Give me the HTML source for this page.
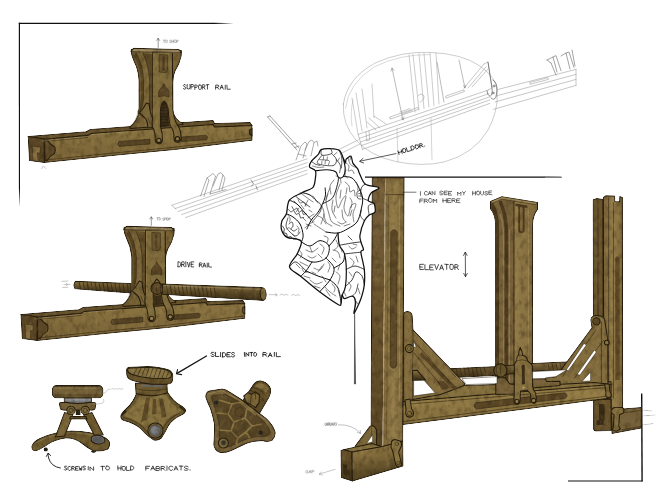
<!DOCTYPE html>
<html><head><meta charset="utf-8"><title>Rail concepts</title>
<style>
html,body{margin:0;padding:0;background:#fff;}
body{width:658px;height:494px;overflow:hidden;font-family:"Liberation Sans",sans-serif;}
svg{display:block;position:absolute;left:0;top:0;}
.o{stroke:#241b0c;stroke-width:1.05;stroke-linejoin:round;stroke-linecap:round}
.d{fill:none;stroke:#2f2512;stroke-width:.6;stroke-linecap:round;stroke-linejoin:round}
.h{fill:none;stroke:#b9a476;stroke-width:.6;stroke-linecap:round;opacity:.7}
.k{fill:none;stroke:#111;stroke-width:.9;stroke-linecap:round;stroke-linejoin:round}
.s{fill:none;stroke:#8a8a8a;stroke-width:.5;stroke-linecap:round;stroke-linejoin:round}
.s2{fill:none;stroke:#555;stroke-width:.6;stroke-linecap:round;stroke-linejoin:round}
.hw{fill:none;stroke:#151515;stroke-width:.75;stroke-linecap:round;stroke-linejoin:round}
.t{fill:none;stroke:#666;stroke-width:.4;stroke-linecap:round;stroke-linejoin:round}
.w{fill:#fff;stroke:#2a2110;stroke-width:.6;stroke-linejoin:round}
</style></head><body>
<svg width="658" height="494" viewBox="0 0 658 494">
<defs>
<linearGradient id="gF" x1="0" y1="0" x2="0" y2="1"><stop offset="0" stop-color="#8c7542"/><stop offset="1" stop-color="#786236"/></linearGradient>
<linearGradient id="gP" x1="0" y1="0" x2="1" y2="0"><stop offset="0" stop-color="#65512b"/><stop offset=".45" stop-color="#8a7441"/><stop offset="1" stop-color="#725d31"/></linearGradient>
<linearGradient id="gV" x1="0" y1="0" x2="1" y2="0"><stop offset="0" stop-color="#6b582e"/><stop offset=".5" stop-color="#8b7745"/><stop offset="1" stop-color="#6e5b30"/></linearGradient>
<linearGradient id="gR" x1="0" y1="0" x2="0" y2="1"><stop offset="0" stop-color="#8a7546"/><stop offset=".5" stop-color="#5d4a26"/><stop offset="1" stop-color="#3b2e17"/></linearGradient>
<linearGradient id="gF2" x1="0" y1="0" x2="0" y2="1"><stop offset="0" stop-color="#9a8149"/><stop offset="1" stop-color="#836e3c"/></linearGradient>
<linearGradient id="gV2" x1="0" y1="0" x2="1" y2="0"><stop offset="0" stop-color="#7a6337"/><stop offset=".5" stop-color="#947d4a"/><stop offset="1" stop-color="#7c6538"/></linearGradient>
<linearGradient id="gL" x1="0" y1="0" x2="0" y2="1"><stop offset="0" stop-color="#765f3a"/><stop offset=".5" stop-color="#6a542e"/><stop offset="1" stop-color="#574322"/></linearGradient>
<linearGradient id="gSh" x1="0" y1="0" x2="0.25" y2="1"><stop offset="0" stop-color="#2a1f0c" stop-opacity="0"/><stop offset=".35" stop-color="#2a1f0c" stop-opacity=".12"/><stop offset="1" stop-color="#2a1f0c" stop-opacity=".6"/></linearGradient>
<filter id="tex" x="-2%" y="-2%" width="104%" height="104%" color-interpolation-filters="sRGB">
<feTurbulence type="fractalNoise" baseFrequency=".2 .13" numOctaves="4" seed="11" result="n"/>
<feColorMatrix in="n" type="matrix" values="0 0 0 0 .16  0 0 0 0 .11  0 0 0 0 .04  -.75 0 0 0 .42" result="dk"/>
<feColorMatrix in="n" type="matrix" values="0 0 0 0 .78  0 0 0 0 .68  0 0 0 0 .42  0 .45 0 0 -.235" result="lt"/>
<feMerge result="m"><feMergeNode in="SourceGraphic"/><feMergeNode in="dk"/><feMergeNode in="lt"/></feMerge>
<feComposite in="m" in2="SourceGraphic" operator="in"/>
</filter>
</defs>
<rect width="658" height="494" fill="#fff"/>
<g id="frames">
<path d="M18.8,22.8 L20,22.8 L20,188 L19.5,207 L18.9,188 Z" fill="#111"/>
<path d="M18.8,22.7 L214,22.8 L234,23.3 L214,23.9 L18.8,23.9 Z" fill="#111"/>
</g>
<g id="sketch">
<!-- big oval (zoom bubble) -->
<path style="stroke:#9a9a9a" class="s" d="M343.4,104 Q347,78 376,62.6 Q402,51 430,52.4 Q462,53.6 480,66 Q497,78 497.4,92 Q498,112 488,130 Q474,154 444,162 Q422,167 396,161.6 Q370,156 356,140 Q342,124 343.4,104 Z"/>
<path style="stroke:#b5b5b5" class="s" d="M345.6,108 Q348,84 374,67 Q400,54 430,54.6 M352,126 Q350,112 353,100"/>
<!-- magnified rail inside oval -->
<path style="stroke:#8e8e8e" class="s" d="M358.2,134.4 L488.4,90 M359.4,138.4 L489,93.6 M360.4,142 L489.4,97 M361.4,145.6 L489.6,100 M362.4,149.4 L489.8,103.4 M358.2,134.4 L362.4,149.4"/>
<path style="stroke:#8e8e8e" class="s" d="M366,131.6 L366.6,141 L369.6,140 L369,130.6 M390,117 L418,107.4 L418.4,109.4 L390.6,119 Z M446,96 L464,89.8 L464.4,91.6 L446.4,98 Z"/>
<!-- posts inside oval -->
<path style="stroke:#9a9a9a" class="s" d="M352,98 L358,134 M356,93 L362,131 M362,89 L367,128 M372,84 L374,118 M409,55 L415,112 M413,54.4 L419,110 M419,53.8 L424,108.6 M424,53.4 L429,107 M430,53 L434,105.6 M436,53 L439,104"/>
<!-- arrows inside -->
<path style="stroke:#777" class="s" d="M392,68 L403,120 M391,71 L392,68 L394,70.4 M401.4,117.6 L403,120 L404,117 M437,62 L444,102 M459,60 L465,88 M463.6,85.6 L465,88 L466,85.4"/>
<!-- brackets inside -->
<path style="stroke:#8e8e8e" class="s" d="M369,118 L380,128 M367,122 L376,130 M374,116 L386,124 M464,88 L484,64 M468,88 L486,67 M472,87 L488,69 M484,64 L488,62 L492,88 L488,90"/>
<path style="stroke:#444" class="s2" d="M488,62 L492,88 Q493,95 490,96.4 Q487,95 487,91 M493,80 Q497,82 497,90 L496,97 Q494,101 491,98"/>
<circle class="s2" cx="494" cy="86" r="1"/><circle class="s2" cx="493" cy="93" r="1"/>
<path style="stroke:#8e8e8e" class="s" d="M418,96 Q421,92 424,96 Q424,101 420,102 M400,112 L410,108.6 M402,114 L412,110.4"/>
<path style="stroke:#aaa" class="s" d="M398,162 L397,128 M432,160 L431,118"/>
<!-- small rail right of oval -->
<path style="stroke:#8e8e8e" class="s" d="M497.4,89.6 L576,69.4 M496,96 L576,74.4 M495,102 L576,79.4 M493.4,109.4 L576,85.4 M576,69.4 L576,85.4 M530,82.4 L548,77.6 L548.4,79.4 L530.4,84.2Z"/>
<!-- small tower right -->
<path style="stroke:#666" class="s2" d="M547,60 L553,57 L557,72 M553,57 L556,55.6 L561,70.6 M561,56 L566,53 L570,69 M566,53 L569,52 L574,67.4 M572,50 L575,66 M551,63 L556,75 M547,60 L551,63"/>
<!-- small rail left -->
<path style="stroke:#8e8e8e" class="s" d="M171.8,205.3 L307.2,158.8 M175,208.6 L307.2,162.6 M178,211.6 L307.2,166.4 M181.6,214.6 L307.2,170 M185.5,217.6 L307.2,173.8 M171.8,205.3 L176,209"/>
<path style="stroke:#555" class="s2" d="M251,180 L253.6,184 L251.6,186 M256,186 L257.4,189.6"/>
<!-- small tower left -->
<path style="stroke:#777" class="s2" d="M200.6,196 L207,178 L213,173.6 L215.6,176 L210,194 M207,178 L209,180 L204,196.4 M213,186 L218,174 L221,172.6 L223,175 L219,190 M223,175 L225,178 L222,190 M210,194 L226,189.6"/>
<!-- small tower near robot -->
<path style="stroke:#777" class="s2" d="M296,160 L301,146 L305,142 L307,144 L303,158 M305,150 L309,141.6 L312,140 L314,142.6 L311,156 M314,142.6 L317,141 L318,146 M298,154 L306,156"/>
<!-- diagonal pole -->
<path style="stroke:#666" class="s2" d="M267.6,117 L297,150 M270,116 L299,148 M267.6,117 L270,116 M292,144 L296,143 M294.6,147.6 L299,146"/>
<!-- long rail continues from robot to oval -->
<path style="stroke:#8e8e8e" class="s" d="M338,150 L358,140 M340,154 L360,144"/>
</g>
<g filter="url(#tex)" id="rail1">
<!-- top face of rail -->
<path style="fill:#66522c" class="o" d="M28,136.5 L86,131.8 L90,129.6 L131,126.6 L183,122.4 L213,120.6 L214.5,123.4 L250,122.6 L252,125.6 L214,127.5 L90,135 L44.2,139.6 Z"/>
<!-- front face -->
<path style="fill:url(#gF)" class="o" d="M44.2,139.2 L88,135.6 L91,133.6 L213,124.6 L214.5,127 L252,125.4 L252,140.2 L175,149.6 L120,154.8 L44.2,162.4 Z"/>
<!-- left end face -->
<path style="fill:#5a4625" class="o" d="M28.2,136.4 L44.2,138.7 L44.2,162.4 L29.5,160.4 Z"/>
<path fill="#856e40" stroke="#2a2110" stroke-width=".5" d="M32.3,146 L40.5,147.3 L40.2,153 L37.4,152.8 L38,161.6 L32.9,160.4 Z"/>
<!-- end cap detail on front face -->
<path style="fill:#5c4826" class="o" d="M44.8,140.4 L47.6,140.4 Q50.5,145 54.8,147 Q56,150.4 54.6,153.4 Q50,155.6 47.4,160.4 L44.8,160.8 Z"/>
<path class="d" d="M44.6,141.2 L88,137.4 M44.6,160 L120,152.4 L175,147.2 L251,138"/>
<!-- dark slots -->
<path fill="#574424" stroke="#2a2110" stroke-width=".5" d="M119,141.4 Q116.5,144 119.4,146.4 L150,144 L150,139.2 Z"/>
<path fill="#574424" stroke="#2a2110" stroke-width=".5" d="M181,137 L206,135.2 Q209,137 206.4,139.8 L181,141.6 Z"/>
<!-- right end notch -->
<path style="fill:#574424" class="o" d="M252,128.4 L249.6,130 L249.6,134 L252,136 Z"/>
<!-- post back/side -->
<path style="fill:url(#gP)" class="o" d="M131,51 L131.4,49.2 L181.4,50.6 L181.2,56 Q179.6,64 175,71 Q172.8,76 172.8,82 L172.8,110 Q174,119 182.6,123.4 L183,124.4 L130,128.4 L130,126.6 Q137.6,121 139,111 L139,80 Q138.6,70 134,61 Q131.6,56 131,51 Z"/>
<!-- top face of post -->
<path style="fill:#97835a" class="o" d="M131,51.6 L133.6,48.2 L179,49.6 L181.4,52.8 Z"/>
<!-- side ribs (left) -->
<path fill="#55421f" d="M136,53 Q142.6,64 143.6,80 L143.4,100 Q142.6,108 139.4,113 L137.6,112 Q140.2,106 140.6,100 L140.8,80 Q140,66 133.6,55.4 Z"/>
<path fill="#5d4926" d="M143,53.2 Q148.6,64 149.4,80 L149.2,104 Q150,112 152.6,116 L152.6,54 Z"/>
<path class="d" d="M136,53 Q142.6,64 143.6,80 L143.4,100 Q142.6,108 139.4,113 M143,53.2 Q148.6,64 149.4,80 L149.2,104 Q150,114 152.8,118"/>
<path style="fill:#7b663a" class="o" d="M139.4,113 Q144,108 146.4,103 L149.2,104 Q150,114 152.6,118 L152.8,127 L148,127.6 Q147.6,120 144,117 Q141.6,115 139.4,113 Z"/>
<!-- central column front face -->
<path style="fill:#7f6b3b" class="o" d="M152.8,52 L172.4,52.6 L172.8,110 Q174,120 178,126 Q181.6,131.6 181,139 Q180,142.6 177,142.2 Q173.8,141.6 174,138 Q174.2,131 170.6,126 Q168.6,121 168.4,112 Q168,104 164,101 Q160.6,104 160.4,112 L160.6,127 Q162.8,133 162.4,140.6 Q161.4,144.2 158.4,143.8 Q155,143 155.2,139.4 Q155.6,132.6 152.4,127 Q151.6,122 152.8,116 Z"/>
<!-- channel in column -->
<path fill="#6a552e" stroke="#2a2110" stroke-width=".5" d="M159,54.6 L167.6,55 L167.6,70 Q167,72.4 165.6,72.6 L159.2,72 Z"/>
<path fill="#4a3a1e" d="M162.4,56.4 L164.6,56.4 L164.6,70.6 L162.4,70.4 Z"/>
<path fill="#5a4625" stroke="#2a2110" stroke-width=".5" d="M158.6,92 Q160,88 162,87.4 L163.8,83.6 L165.8,87.4 Q168,88.4 169,92 L169,97 Q164,94.6 158.6,97 Z"/>
<!-- arch opening -->
<path fill="#2e2412" d="M160.6,127 L160.6,110 Q161,102.6 164.2,101.6 Q167.8,102.6 168.2,110 L168.4,120 Q168.6,123.6 170,126 Z"/>
<path style="stroke:#5a4928" class="t" d="M161.4,106h6M161.2,109h6.6M161.2,112h6.8M161.2,115h6.8M161.2,118h7M161.2,121h7.4M161.2,124h8"/>
<!-- pivots -->
<circle style="fill:#9a8552" class="o" cx="158.8" cy="140.4" r="2.2"/>
<circle style="fill:#9a8552" class="o" cx="177.4" cy="138.8" r="2.2"/>
<!-- left flare foot -->
<path class="d" d="M130.4,126.8 Q137,121 138,110 M148,118 Q149.4,124 152.8,127"/>
<path class="h" d="M132.4,51 L180,52.8 M153.6,53.4 L153.6,115 M42,141 L87,136.6 M92,134.6 L129,131.6"/>
</g>
<g filter="url(#tex)" id="rail2">
<!-- rod left part (behind post) -->
<path style="fill:url(#gR)" class="o" d="M75.4,281.2 Q72.6,284.8 75,288.8 L131,293 L131,283.4 Z"/>
<path style="stroke-width:.7;stroke:#2f2512" class="t" d="M79,281.6l1.6,7.4M83,281.8l1.6,7.6M87,282l1.6,7.8M91,282.2l1.6,8M95,282.4l1.6,8.2M99,282.6l1.6,8.4M103,282.8l1.6,8.4M107,283l1.6,8.6M111,283l1.6,8.8M115,283.2l1.6,9M119,283.2l1.6,9.2M123,283.4l1.6,9.2M127,283.4l1.6,9.4"/>
<g transform="translate(-7.2,178)">
<!-- top face of rail -->
<path style="fill:#66522c" class="o" d="M28,136.5 L86,131.8 L90,129.6 L131,126.6 L183,122.4 L213,120.6 L214.5,123.4 L250,122.6 L252,125.6 L214,127.5 L90,135 L44.2,139.6 Z"/>
<!-- front face -->
<path style="fill:url(#gF)" class="o" d="M44.2,139.2 L88,135.6 L91,133.6 L213,124.6 L214.5,127 L252,125.4 L252,140.2 L175,149.6 L120,154.8 L44.2,162.4 Z"/>
<!-- left end face -->
<path style="fill:#5a4625" class="o" d="M28.2,136.4 L44.2,138.7 L44.2,162.4 L29.5,160.4 Z"/>
<path fill="#856e40" stroke="#2a2110" stroke-width=".5" d="M32.3,146 L40.5,147.3 L40.2,153 L37.4,152.8 L38,161.6 L32.9,160.4 Z"/>
<!-- end cap detail on front face -->
<path style="fill:#5c4826" class="o" d="M44.8,140.4 L47.6,140.4 Q50.5,145 54.8,147 Q56,150.4 54.6,153.4 Q50,155.6 47.4,160.4 L44.8,160.8 Z"/>
<path class="d" d="M44.6,141.2 L88,137.4 M44.6,160 L120,152.4 L175,147.2 L251,138"/>
<!-- dark slots -->
<path fill="#574424" stroke="#2a2110" stroke-width=".5" d="M119,141.4 Q116.5,144 119.4,146.4 L150,144 L150,139.2 Z"/>
<path fill="#574424" stroke="#2a2110" stroke-width=".5" d="M181,137 L206,135.2 Q209,137 206.4,139.8 L181,141.6 Z"/>
<!-- right end notch -->
<path style="fill:#574424" class="o" d="M252,128.4 L249.6,130 L249.6,134 L252,136 Z"/>
<!-- post back/side -->
<path style="fill:url(#gP)" class="o" d="M131,51 L131.4,49.2 L181.4,50.6 L181.2,56 Q179.6,64 175,71 Q172.8,76 172.8,82 L172.8,110 Q174,119 182.6,123.4 L183,124.4 L130,128.4 L130,126.6 Q137.6,121 139,111 L139,80 Q138.6,70 134,61 Q131.6,56 131,51 Z"/>
<!-- top face of post -->
<path style="fill:#97835a" class="o" d="M131,51.6 L133.6,48.2 L179,49.6 L181.4,52.8 Z"/>
<!-- side ribs (left) -->
<path fill="#55421f" d="M136,53 Q142.6,64 143.6,80 L143.4,100 Q142.6,108 139.4,113 L137.6,112 Q140.2,106 140.6,100 L140.8,80 Q140,66 133.6,55.4 Z"/>
<path fill="#5d4926" d="M143,53.2 Q148.6,64 149.4,80 L149.2,104 Q150,112 152.6,116 L152.6,54 Z"/>
<path class="d" d="M136,53 Q142.6,64 143.6,80 L143.4,100 Q142.6,108 139.4,113 M143,53.2 Q148.6,64 149.4,80 L149.2,104 Q150,114 152.8,118"/>
<path style="fill:#7b663a" class="o" d="M139.4,113 Q144,108 146.4,103 L149.2,104 Q150,114 152.6,118 L152.8,127 L148,127.6 Q147.6,120 144,117 Q141.6,115 139.4,113 Z"/>
<!-- central column front face -->
<path style="fill:#7f6b3b" class="o" d="M152.8,52 L172.4,52.6 L172.8,110 Q174,120 178,126 Q181.6,131.6 181,139 Q180,142.6 177,142.2 Q173.8,141.6 174,138 Q174.2,131 170.6,126 Q168.6,121 168.4,112 Q168,104 164,101 Q160.6,104 160.4,112 L160.6,127 Q162.8,133 162.4,140.6 Q161.4,144.2 158.4,143.8 Q155,143 155.2,139.4 Q155.6,132.6 152.4,127 Q151.6,122 152.8,116 Z"/>
<!-- channel in column -->
<path fill="#6a552e" stroke="#2a2110" stroke-width=".5" d="M159,54.6 L167.6,55 L167.6,70 Q167,72.4 165.6,72.6 L159.2,72 Z"/>
<path fill="#4a3a1e" d="M162.4,56.4 L164.6,56.4 L164.6,70.6 L162.4,70.4 Z"/>
<path fill="#5a4625" stroke="#2a2110" stroke-width=".5" d="M158.6,92 Q160,88 162,87.4 L163.8,83.6 L165.8,87.4 Q168,88.4 169,92 L169,97 Q164,94.6 158.6,97 Z"/>
<!-- pivots -->
<circle style="fill:#9a8552" class="o" cx="158.8" cy="140.4" r="2.2"/>
<circle style="fill:#9a8552" class="o" cx="177.4" cy="138.8" r="2.2"/>
<!-- left flare foot -->
<path class="d" d="M130.4,126.8 Q137,121 138,110 M148,118 Q149.4,124 152.8,127"/>
<path class="h" d="M132.4,51 L180,52.8 M153.6,53.4 L153.6,115 M42,141 L87,136.6 M92,134.6 L129,131.6"/>

<path fill="#3b2e17" d="M160.4,127 L160.4,116 Q164,119 168.4,116 L168.6,122 Q168.8,125 170,126.4 Z"/>
</g>
<!-- ball joint -->
<circle style="fill:#5e4b26" class="o" cx="157" cy="288.4" r="6"/>
<path class="d" d="M153.2,284 Q151.6,288.4 153.4,293 M157,282.6 Q155.6,288.4 157.2,294.2 M160.8,284 Q159.8,288.4 161,293"/>
<!-- rod right part -->
<path style="fill:url(#gR)" class="o" d="M162.4,284 L262,287.6 Q268,294 263,300.4 L162.6,294.2 Z"/>
<ellipse style="fill:#7e6a3c" class="o" cx="263.2" cy="294" rx="3" ry="6.2" transform="rotate(-4 263.2 294)"/>
<path style="stroke-width:.7;stroke:#2f2512" class="t" d="M166,284.4l2,9.8M170,284.6l2,10M174,284.8l2,10M178,285l2,10.2M182,285.2l2,10.2M186,285.4l2,10.4M190,285.6l2,10.4M194,285.8l2,10.6M198,286l2,10.6M202,286.2l2,10.8M206,286.4l2,10.8M210,286.6l2,11M214,286.8l2,11"/>
<path class="h" d="M164,285.6 L260,289.4"/>
</g>
<g filter="url(#tex)" id="feet">
<!-- FOOT 1 -->
<g>
<!-- base arc -->
<path style="fill:#6d5a2f" class="o" d="M31.8,446.6 Q33,441.6 40,438.4 Q55,431.6 71.5,431 Q92,431.4 105,437.6 Q110.4,440.6 109.6,444.6 Q109.2,448.4 107,449.4 Q99,452 93,450.4 Q87,447.6 81.6,443 Q74,437.4 65.6,438 Q54,439.6 47.4,444.6 Q40,449.6 35.6,450.8 Q32,450.6 31.8,446.6 Z"/>
<path class="h" d="M36,442.6 Q52,433.6 71.5,432.6 Q90,433 103,438.4"/>
<!-- wheel -->
<circle cx="45.8" cy="449.4" r="2.2" fill="#1d1a16"/>
<ellipse cx="93.5" cy="451.6" rx="2.6" ry="1.4" fill="#2a2418"/>
<!-- legs -->
<path style="fill:#7b6739" class="o" d="M64.4,412.6 L73,414.6 L64.6,436 L55.4,437 Z"/>
<path style="fill:#6a572d" class="o" d="M83.4,414.6 L92,412.6 L103.4,435 L94.4,435.4 Z"/>
<path style="fill:#5e4c27" class="o" d="M70.6,416.4 L86,416.4 L87,419 L69.6,419 Z"/>
<!-- gray oval -->
<ellipse style="fill:#6a6a6c" class="o" cx="98" cy="439.6" rx="7" ry="4.4" transform="rotate(8 98 439.6)"/>
<ellipse cx="98" cy="439.8" rx="5.4" ry="3" fill="#58585b" transform="rotate(8 98 439.6)"/>
<!-- collar -->
<path style="fill:#75623a" class="o" d="M59.4,404 Q59,402.4 61,402.4 L94,402.4 Q96,402.4 95.8,404.4 L95,409 Q92,411 89,409.8 L67.6,409.8 Q64,411.2 60.4,409 Z"/>
<circle style="fill:#7f6b3d" class="o" cx="71" cy="410.4" r="4.2"/>
<circle style="fill:#7f6b3d" class="o" cx="85.2" cy="410.4" r="4.2"/>
<circle class="d" cx="71" cy="410.4" r="2.2"/>
<circle class="d" cx="85.2" cy="410.4" r="2.2"/>
<path fill="#2b2212" d="M75.6,410 h5 v5 h-5z"/>
<!-- gray disc -->
<path style="fill:#77787b" class="o" d="M64.2,396 L91.4,396 L91.4,402 Q78,405 64.2,402 Z"/>
<path fill="#94969a" d="M65,399 L90.6,399 L90.6,400.6 L65,400.6Z"/>
<!-- cap -->
<rect style="fill:#75623a" class="o" x="52.4" y="385.6" width="50.4" height="12.2" rx="4" ry="4"/>
<path class="h" d="M55,388 L100,388"/>
<path class="d" d="M56,386.6 L99,386.6" stroke-dasharray="2.4 2"/>
<path fill="#54421f" opacity=".6" d="M54,394 L101,394 L100,397.6 L55,397.6Z"/>
</g>
<!-- FOOT 2 -->
<g>
<!-- body -->
<path style="fill:#6a572d" class="o" d="M137,392 Q134,402 126,409 Q121.4,413 120.8,416 Q120.6,419.4 124,420.4 Q135,423 141,429 Q148,437 154,440 Q158,441 161.4,438 Q165.4,432 168.4,425.6 Q172.4,419.4 180.6,415.4 Q185.4,413 185.6,410.6 Q185,407.6 181,405.6 Q173,401.6 167.4,392 Z"/>
<path fill="#86723f" d="M139,396 Q136,404 128,411 Q124.4,414 124.4,416 Q136,419.6 143,426 Q150,434 155,436.4 Q160,432 164,424 Q169,416.4 178.4,412.4 L181.6,410.2 Q172,405.6 166,395 Z"/>
<path fill="#5c4926" d="M146,398 L150,397 L147,420 L141,422 Z M163,399 L159,398 L161.6,418 L166.6,416.4Z M153,399 L156,399 L156.6,414 L152,414.6Z"/>
<path class="d" d="M124,417.6 Q136,420.4 143,427.4 Q150,435.4 155.4,438 Q161,433.6 165,425.4 Q169.6,417.6 179,413.6 M121,415 L125,411.4 M185,409.6 L181,407"/>
<path fill="#2f2514" d="M121,414.6 L125.6,410 L127,411.4 L122,416Z M185.4,409.6 L180.4,405.6 L179,407 L184.4,411.4Z"/>
<!-- gray disc -->
<circle style="fill:#7b683b" class="o" cx="155.4" cy="430.6" r="7.6"/>
<circle cx="155.4" cy="430.6" r="5.8" fill="#66676a" stroke="#2a2110" stroke-width=".5"/>
<circle cx="154.8" cy="430" r="3.6" fill="#7d7e82"/>
<!-- neck -->
<path style="fill:#6b582e" class="o" d="M135.4,383 L167,384 L167.4,393 Q151,398 136,393.6 Z"/>
<path fill="#66676a" d="M141,384.4 L163,385.2 L163,387 L141,386.4Z"/>
<path class="d" d="M135.6,388.6 Q151,392.6 167.2,388.8"/>
<!-- cap -->
<path style="fill:#65522a" class="o" d="M126.6,370.6 Q126.2,367.4 130,367.2 L148,366.4 Q164,367.4 169,370 Q173,372.4 172.8,376 L172.6,380 Q172,384 167,384.2 L152,384.2 Q138,382.6 130,379.4 Q126.8,377.6 126.8,374.6 Z"/>
<path style="fill:#8a7644" class="o" d="M127.6,370.4 Q127.4,368.2 130.4,368 L148,367.2 Q163,368.2 168,370.6 Q171.8,372.6 171.6,375.4 Q171,378.4 166,378.4 L152,378.2 Q138,376.8 131,374 Q127.8,372.6 127.6,370.4 Z"/>
<path style="stroke-width:.7;stroke:#3a2d16" class="t" d="M137,368.4l-3,5.4M141,368.2l-3,6.6M145,368l-3,7.6M149,368l-3,8.4M153,368.2l-3,8.8M157,368.6l-3,8.8M161,369.2l-3,8.4M165,370.2l-3,7.6M168.6,372l-2.6,6"/>
</g>
<!-- FOOT 3 -->
<g>
<!-- knob -->
<path style="fill:#5f4c27" class="o" d="M243,400 L254.2,383.6 Q257.4,380 262.4,381.2 Q268.6,383.4 270.4,388.4 Q271.4,392.4 268.8,397.4 L258,416 Z"/>
<path fill="#85713f" d="M256,384.4 Q258.4,382.6 262,383.4 Q267,385.4 268.6,389 L266,393 Q262,388 255,386.4Z"/>
<path class="d" d="M252.6,387.4 Q260,388 266.6,396.6 M250.4,390.6 Q258,392 264,401"/>

<!-- plate rim -->
<path style="fill:#77633a" class="o" d="M206.8,392.8 Q208,390.6 212,390.4 L222.4,389 Q226,389.4 229,391.6 L240.6,399 L266,418.4 Q273,425 275,431.6 Q276,436.4 272,440.4 Q268,442.4 262,440.6 Q254,440.6 246,443.6 L231.4,450.4 Q224,453.4 219.6,452.2 Q214.4,450 213.8,444.6 Q214.6,434 214.6,424.6 Q213,416 210.4,408.4 Q206.6,400 205.8,397 Q205.6,394.4 206.8,392.8Z"/>
<path style="fill:#7a6638" class="o" d="M243.6,396 L247.6,392.6 L251.4,394.4 L255.4,392 L259.6,395 L259,402.6 L255.6,407.6 L250,404 L246.4,402.6 Z"/>
<path class="d" d="M251.4,394.4 L250,404 M255.4,392 L255.6,399"/>
<!-- inner panel -->
<path fill="#574626" stroke="#2a2110" stroke-width=".5" d="M211.6,396 Q213,394.6 216,395 L226,394.6 L240,402.4 L263,420.6 Q269,426.6 270.4,432 Q269,436.6 264,436.4 Q254,436 245,439.4 L231,446 Q226,448 222.4,446.6 Q219,444 219,440 Q219.6,430 219,423 Q217,414 214.6,407 Q211.6,400 211.6,396Z"/>
<!-- ribs -->
<path fill="none" stroke="#8a7442" stroke-width="1.6" stroke-linejoin="round" d="M219,400 L232,404 L240,402.4 M232,404 L228,414 L216.4,413 M228,414 L234,422 L245,418 L247,408 L240,402.4 M247,408 L256,415 M245,418 L252,426 L262,424 M234,422 L231,431 L219.4,430 M231,431 L238,438 L246,432 L252,426 M246,432 L250,438 M238,438 L236,444"/>
<circle cx="239.6" cy="412" r="4.6" fill="#5a4725" stroke="#3a2d16" stroke-width=".5"/>
<!-- bolts -->
<circle cx="216" cy="402.6" r="2.2" fill="#25221e"/>
<circle cx="260.6" cy="432.6" r="2.2" fill="#25221e"/>
<circle style="fill:#7a6638" class="o" cx="223.4" cy="443" r="5"/>
<circle cx="223.4" cy="443" r="2.4" fill="#35332f"/>
<path class="h" d="M208,394 L222,390.6 L240,400.4 L265,419.6"/>
</g>
</g>
<g id="elevframe">
<!-- frame lines -->
<path d="M355,178 V312" stroke="#222" stroke-width=".6" fill="none"/>
<path d="M354.6,312 L355.6,384 L354.4,384 Z" fill="#333" stroke="#333" stroke-width=".5"/>
<path d="M365,177.2 H545 L561,177.4" stroke="#111" stroke-width="1.3" fill="none"/>
<path d="M545,177.3 H562" stroke="#888" stroke-width="1.2" fill="none"/>
<path d="M641.7,393.4 L642.1,481.6" stroke="#111" stroke-width="1.4" fill="none"/>
<path d="M568,481 H642.4" stroke="#111" stroke-width="1" fill="none"/>
</g>
<g filter="url(#tex)" id="elev">
<!-- RIGHT POST -->
<path style="fill:#6a542d" class="o" d="M593.2,199.8 L597,198.6 L603,199.6 L603.4,400 L593.6,400 Z"/>
<path style="fill:url(#gV2)" class="o" d="M603.4,197.4 L606,195.8 L614.6,196 L614.8,201.6 L619.6,201.8 L619.8,196.6 L622.4,197.4 L622.6,409 L611.4,412 L611,400 L603.6,400 Z"/>
<path class="d" d="M598,200 V398 M608.6,198 V398 M613.4,203 V398"/>
<path fill="#5f4a27" d="M615.2,258 Q617.4,254.6 619.6,258 L619.8,380 L615.4,380 Z"/>
<!-- right post foot -->
<path style="fill:#66512b" class="o" d="M593.6,400 L611,399 L611.4,430.6 L596,431 Q593.4,430.6 593.6,428 Z"/>
<path fill="#372b15" d="M599,404 h5.6 v17 h-5.6z M596.6,421 Q600,418.6 603.6,421 L603.6,425 L596.6,425Z"/>
<path style="fill:#76623a" class="o" d="M611.4,411.6 L622.4,409 L641.4,407.6 L641.4,428 L612,433.4 Z"/>
<path style="fill:#85713f" class="o" d="M611.6,409.6 L614,407.6 L622.6,407.4 L624,409.6 L623.6,413 L619.6,414.6 L618.6,426 L620.4,429 L616,431.4 L612.6,429.6 L613.6,425 L614,414.6 L611.6,413 Z"/>
<path class="d" d="M624,412.6 L641,410.6 M622,430 L641,426.4"/>
<path class="s2" d="M642,410 L652,411 M642,416 L655,415 M642,425 L653,423.6"/>
<!-- MIDDLE POST -->
<path style="fill:url(#gV2)" class="o" d="M490.5,201.4 L501.9,196.7 L537.5,202.5 L537.5,209.3 Q533,215 532.6,224 L532.4,392 L495.6,394 L495.6,224 Q495,214 490.5,209 Z"/>
<path fill="#77613a" d="M491,202.4 L502,198.6 L514,200.6 L514.3,392.6 L495.8,393.6 L495.8,224 Q495.2,214 491,208.8 Z"/>
<path fill="#9c8858" stroke="#241b0c" stroke-width=".5" d="M490.5,201.4 L501.9,196.7 L537.5,202.5 L535.6,204.6 L502,199.2 L492.4,203.2 Z"/>
<path fill="#4a391c" d="M491.2,203.6 L493.4,202.8 Q498.6,212 499,226 L499,393.4 L495.8,393.6 L495.8,226 Q495.2,214 491.2,208.6 Z"/>
<path fill="#4a391c" d="M498.6,201.4 L501.4,200.4 Q507.4,212 508,228 L508,393 L504.6,393.2 L504.6,228 Q503.6,214 498.6,201.4 Z"/>
<path fill="#4f3d1f" d="M513.2,201 L514.6,201.2 L514.6,392.6 L513.2,392.6 Z"/>
<path class="h" d="M500,214 Q503.4,222 503.6,232 L503.6,390 M509.4,230 V390"/>
<path fill="#4a391c" d="M515.4,203.6 L527.4,205.6 L527.4,208 L524.6,207.6 L524.6,231.6 Q521.4,235.4 518.2,231.6 L518.2,206.6 L515.4,206.2 Z"/>
<path fill="#7d663a" d="M520,207 L522.8,207.4 L522.8,230.6 Q521.4,232.4 520,230.6 Z"/>
<path class="h" d="M528.4,208 V390"/>
<!-- LEFT POST -->
<path fill="url(#gL)" d="M372.2,177.6 L385.1,177.6 L382.6,447 L371,444 Z"/>
<path fill="url(#gV2)" d="M385.1,177.6 L404.1,177.6 L402.7,441 L382.6,447 Z"/>
<path style="fill:none" class="o" d="M372.2,177.6 L404.1,177.6 L402.7,441 L382.6,447 L371,444 Z"/>
<path class="d" d="M384.9,194.6 L404,194.6"/>
<path class="d" style="stroke-width:.4;opacity:.7" d="M388.6,196 L386.4,440"/>
<path fill="#5f4a27" stroke="#2a2110" stroke-width=".5" d="M390.8,232 Q394,227.4 397.3,232 L396.6,366 Q393.4,370.6 390.2,366 Z"/>
<path class="h" style="stroke-width:.9;opacity:.85" d="M385.6,179 L383.1,445"/>
<path class="h" d="M399.6,196 V400"/>
<!-- CROSS BEAM -->
<path style="fill:#85713f" class="o" d="M403,397 L440,392.6 L463,385.6 L531,383.6 L594,381.6 L611,381.8 L611,385 L403,402 Z"/>
<path style="fill:url(#gF2)" class="o" d="M403,401.6 L611,384.6 L611,398 L403,424.6 Z"/>
<path class="d" d="M403,404.6 L611,387.2 M403,421.6 L611,395.6"/>
<path fill="#5a4625" stroke="#2a2110" stroke-width=".5" d="M476,402.6 Q472,406 476.4,409 L565,398.6 Q569,395.4 565,392.8 Z"/>
<!-- threaded rod -->
<path style="fill:url(#gR)" class="o" d="M411,370.4 L498,366.6 L532,363.4 L597,360.6 L597,368.6 L532,371.6 L498,375.2 L411,379.8 Z"/>
<path style="stroke-width:.6;stroke:#2f2512" class="t" d="M452,368.4l2,9M456,368.2l2,9M460,368l2,9M464,367.8l2,9M468,367.6l2,9M472,367.4l2,9M476,367.2l2,9M480,367l2,9M484,366.8l2,9M548,363.6l2,8.6M552,363.4l2,8.6M556,363.2l2,8.6M560,363l2,8.6M564,362.8l2,8.6"/>
<circle style="fill:#65522a" class="o" cx="500.4" cy="370.4" r="6.6"/>
<path class="d" d="M497,365 Q495,370.4 497.4,376 M501,364 Q499.4,370.4 501.4,376.8"/>
<!-- LEFT BRACKET -->
<path style="fill:#836d3e" class="o" d="M403.6,316 Q403.4,311.4 407.6,311.4 Q412,311.6 412.2,316 L413,329.8 L465.2,384 L463,386 L440.6,394.4 L413,399.6 L403.6,402 Z"/>
<!-- holes in left bracket -->
<path style="fill:url(#gR)" class="o" d="M412.6,370.4 L417,370.2 L425.6,380 L412.6,380.6 Z"/>
<path fill="#5a4625" d="M421.6,352 L457.6,388.4 L453,389.4 L419.6,354.6 Z M437,381.6 L444,381 L450,387.6 L442,390 Z"/>
<path class="d" d="M412.4,339.4 L452.4,385 M414,353 L440.6,385 M413,329.8 L412.4,400 M421,338.4 L456,377"/>
<path class="h" d="M414.6,333 L462,382"/>
<circle style="fill:#85713f" class="o" cx="409.4" cy="348.6" r="4"/>
<circle class="d" cx="409.4" cy="348.6" r="2"/>
<!-- left lower link -->
<path style="fill:#806c3d" class="o" d="M405,400 L410,399 L411.6,409 Q414.6,412 413,415.6 Q410,418.4 406.6,416 Q404.6,413 406,410 Z"/>
<circle class="d" cx="409.6" cy="413.4" r="2.2"/>
<!-- white gaps under rod -->
<!-- RIGHT BRACKET -->
<path style="fill:#836d3e" class="o" d="M590.8,320 Q591,315.4 597.4,315.6 Q604.6,316 604.8,321 L607.8,340 L608,384 L594,382.4 L556,384.4 L544.4,383.4 L544.4,378 L556,376.8 L592,327.8 Z"/>
<path class="d" d="M596,330 L563,376 M603.6,340.4 L574,378.6 M601.4,322 L601.4,384"/>
<circle style="fill:#5d4a26" class="o" cx="596.4" cy="321.4" r="3.6"/>
<circle style="fill:#85713f" class="o" cx="606.8" cy="342.6" r="2.4"/>
<!-- right lower link -->
<path style="fill:#806c3d" class="o" d="M604.6,384 L609,384 L610,392 Q612,394 611,396.4 Q609,398.4 606.6,397 Q605,395 606,393 Z"/>
<!-- CARRIAGE on middle post -->
<path style="fill:#78623a" class="o" d="M495.8,378 L505,377.6 L510,384 L514.6,384.4 L514.6,394 L495.8,394.6 Z"/>
<path style="fill:#78623a" class="o" d="M532.4,378.8 L544.6,378.6 L547,381.6 L560,381.2 L560,385.4 L532.4,388 Z"/>
<path style="fill:#86703f" class="o" d="M520.2,347.6 Q522.4,351 522.6,355.4 Q527,356 527.8,361 L531.6,364.6 L532.4,366 L532.6,386 Q533,390 535.6,393 L536.4,399 Q536.6,403 533.6,403.4 Q530.6,403 530.8,399.4 L530.6,394 L527,390 L520.6,391 L520.2,397 Q520.6,402 518,404 Q514.6,404.6 514,401 L514.2,392 L514.4,364 L516.6,360.6 Q516.8,356 518.4,355.2 Q518.6,351 520.2,347.6 Z"/>
<path fill="#3a2d16" d="M521.4,366 Q523.2,363.4 525,366 L524.6,372 L525,384 L521.8,384.4 L522,372 Z"/>
<path class="d" d="M516.6,360.6 Q522,358.6 527.8,361 M518.4,355.2 L522.6,355.4"/>
<circle style="fill:#9a8552" class="o" cx="516.9" cy="401.4" r="2.1"/>
<circle style="fill:#9a8552" class="o" cx="533.6" cy="400.4" r="2.1"/>
<circle cx="523.6" cy="387.4" r="1" fill="#b9a476"/>
<!-- LEFT FOOT -->
<path style="fill:#7c683a" class="o" d="M355,446.4 L369.4,427 Q372,424.6 374.6,427 L376.6,430 L376.6,446 L362,450 Z"/>
<path style="fill:#6a542d" class="o" d="M341,450.6 L344,449.4 L352,452 L352.4,481 L341.4,477.4 Z"/>
<path style="fill:#85713f" class="o" d="M344,449.4 L372,443.4 L382.6,447 L352,452 Z"/>
<path style="fill:url(#gF2)" class="o" d="M352,452 L382.6,446.6 L402.7,441 L403,466 L352.4,481 Z"/>
<path fill="url(#gSh)" d="M352,452 L382.6,446.6 L402.7,441 L403,466 L352.4,481 Z"/>
<path fill="url(#gSh)" d="M341,450.6 L352,452 L352.4,481 L341.4,477.4 Z"/>
<path fill="#3a2d16" d="M343,464 L347,465 L347,470 L349.4,470.6 L349.4,476 L343.4,474.4Z"/>
<path style="fill:#85713f" class="o" d="M391.4,442 Q392,439.6 395,439.4 L400,441 Q402.4,443 401.4,446 L398.6,452 L401,462 Q402.4,465 400,466.4 Q397,467.4 395.6,464.6 L393,452 L391,447 Z"/>
<circle class="d" cx="396.8" cy="443.8" r="1.8"/>
<circle class="d" cx="398.4" cy="463" r="1.8"/>
<path class="d" d="M371.6,444 L371.6,427"/>
</g>
<g>
<path fill="#fff" stroke="#2a2110" stroke-width=".6" d="M413.4,340.6 L416.4,347 L413.6,347.4 Z M413.6,380.6 L424,380.2 L435.4,393 L413.6,396 Z"/>
<path fill="#fff" stroke="#2a2110" stroke-width=".5" d="M462,378.6 L497,376.6 L497,383.6 L466,384.6 Z"/>
<path fill="#fff" stroke="#2a2110" stroke-width=".5" d="M532.6,371.6 L567,369.8 L556,376.6 L546,377.8 L544.4,378.6 L532.6,378.8 Z"/>
<path fill="#fff" stroke="#2a2110" stroke-width=".5" d="M584,343.4 L586.4,345 L568.4,370.6 L566,370.2 Z M594.4,350 L596.4,352 L580,375 L577,374.6 Z M590.6,372 L590.6,381 L582,381.4 Z"/>
<path fill="#fff" stroke="#2a2110" stroke-width=".5" d="M366.6,443.4 L372.6,434.6 L372.6,442 Z"/>
</g>
<g id="robot">
<path style="fill:#fff;stroke:#111;stroke-width:1.25;stroke-linejoin:round" d="M309.6,166.9 C309.0,165.5 310.2,163.1 311.5,161.2 C312.8,159.3 316.8,156.1 318.3,154.4 C319.8,152.7 319.3,150.5 321.2,149.6 C323.1,148.7 328.1,148.5 330.8,148.7 C333.5,148.8 337.5,149.2 339.4,150.6 C341.3,152.0 342.4,156.4 343.3,158.3 C344.2,160.2 345.0,162.9 345.4,163.0 C345.8,163.1 345.4,160.2 346.2,159.2 C347.0,158.2 350.0,155.7 351.0,156.3 C352.0,156.9 351.9,161.2 352.9,163.1 C353.9,165.0 356.7,167.2 357.7,168.8 C358.7,170.4 358.4,171.4 359.6,173.7 C360.8,176.0 362.5,182.1 365.4,184.2 C368.3,186.3 377.9,186.4 378.8,187.7 C379.7,189.0 372.8,191.0 371.2,192.9 C369.6,194.8 367.9,199.0 368.3,200.6 C368.7,202.2 373.0,201.8 374.0,203.5 C375.0,205.2 375.7,210.4 375.0,212.1 C374.3,213.8 370.8,213.7 369.2,215.0 C367.6,216.3 365.8,217.8 364.4,220.8 C363.0,223.8 360.5,231.8 360.0,235.0 C359.5,238.2 360.4,239.7 360.9,241.9 C361.4,244.1 363.5,248.1 363.5,249.6 C363.5,251.1 360.8,249.2 360.9,252.2 C361.0,255.2 363.8,264.5 364.3,269.4 C364.8,274.3 364.8,280.5 364.3,284.9 C363.8,289.3 362.4,294.4 360.9,298.7 C359.4,303.0 354.8,312.8 354.0,313.3 C353.2,313.8 356.0,304.7 355.7,302.1 C355.4,299.5 354.0,296.6 352.3,296.1 C350.6,295.6 346.0,298.8 344.5,298.7 C343.0,298.6 342.5,294.6 342.0,295.2 C341.5,295.8 341.6,301.6 341.1,303.0 C340.6,304.4 341.7,306.4 338.5,304.7 C335.3,303.0 325.3,296.1 319.6,291.8 C313.9,287.5 305.2,280.1 300.7,276.3 C296.2,272.6 290.0,270.2 289.5,266.8 C289.0,263.4 295.4,257.6 297.2,253.9 C299.0,250.2 301.6,244.2 301.5,241.9 C301.4,239.7 298.5,239.6 296.3,238.9 C294.1,238.2 289.3,238.6 287.1,237.4 C284.9,236.2 282.6,233.0 281.8,230.6 C281.0,228.2 281.1,223.9 281.8,221.4 C282.5,218.9 285.3,217.0 286.4,213.8 C287.5,210.6 287.0,203.4 289.4,200.2 C291.8,197.0 298.8,194.5 302.3,192.6 C305.8,190.7 311.0,189.5 313.0,187.3 C315.0,185.1 315.0,180.5 315.4,178.0 C315.8,175.5 316.3,172.5 315.4,170.8 C314.5,169.1 310.2,168.3 309.6,166.9 Z"/>
<path class="k" style="stroke-width:1.15" d="M315.4,170.8 C317.3,170.6 323.5,169.7 326.9,169.8 C330.3,170.0 333.7,170.4 335.6,171.7 C337.5,173.0 337.2,176.7 338.5,177.5 C339.8,178.3 342.2,177.9 343.3,176.5 C344.4,175.1 345.2,171.8 345.2,168.8 C345.2,165.8 343.6,160.1 343.3,158.3"/>
<path class="k" style="stroke-width:0.7" d="M321.2,149.8 C321.3,150.7 320.3,154.6 322.0,155.2 C323.7,155.8 330.1,154.6 331.6,153.6 C333.1,152.6 330.9,149.8 330.8,149.0"/>
<path class="k" style="stroke-width:0.7" d="M322.0,155.2 C321.3,156.6 315.8,161.7 317.6,163.4 C319.4,165.1 329.9,166.2 333.0,165.6 C336.1,165.0 336.6,161.6 336.4,159.6 C336.2,157.6 332.4,154.6 331.6,153.6"/>
<path class="k" style="stroke-width:0.7" d="M336.4,159.6 C337.1,160.6 339.9,163.4 340.4,165.6 C340.9,167.8 339.7,171.4 339.6,172.6"/>
<path class="k" style="stroke-width:0.7" d="M339.4,150.8 C339.8,152.0 341.5,155.1 341.8,158.0 C342.1,160.9 341.5,166.3 341.4,168.0"/>
<path class="k" style="stroke-width:0.7" d="M311.5,161.2 C312.1,161.7 313.6,163.3 315.0,164.0 C316.4,164.7 319.2,165.2 320.0,165.4"/>
<path class="s2" style="stroke:#333" d="M319.6,159.6 C321.2,159.8 327.5,159.8 329.0,160.6 C330.5,161.4 328.5,163.9 328.4,164.6"/>
<path class="s2" style="stroke:#333" d="M323.6,156.6 L323.2,160.0"/>
<path class="s2" style="stroke:#333" d="M325.4,160.4 L325.0,163.8"/>
<path class="s2" style="stroke:#333" d="M322.0,161.0 L321.6,164.0"/>
<path class="s2" style="stroke:#333" d="M327.4,157.0 L327.0,160.4"/>
<path class="s2" style="stroke:#333" d="M334.0,155.0 L337.0,152.4"/>
<path class="s2" style="stroke:#333" d="M337.6,161.0 L339.6,158.0"/>
<path class="s2" style="stroke:#333" d="M346.4,163.4 C346.8,163.8 348.7,164.7 349.0,166.0 C349.3,167.3 347.9,170.3 348.4,171.0 C348.9,171.7 351.1,169.6 352.0,170.0 C352.9,170.4 353.7,173.0 354.0,173.6"/>
<path class="s2" style="stroke:#333" d="M348.0,158.0 C348.4,159.1 349.1,162.8 350.4,164.4 C351.7,166.0 355.1,167.1 356.0,167.6"/>
<path class="s2" style="stroke:#333" d="M346.0,170.0 C345.8,170.8 344.7,173.7 345.0,175.0 C345.3,176.3 347.2,177.5 347.6,178.0"/>
<path class="s2" style="stroke:#333" d="M351.0,156.3 L350.0,160.0"/>
<path class="s2" style="stroke:#333" d="M312.6,166.0 C313.5,166.2 316.1,167.2 318.0,167.4 C319.9,167.6 323.0,167.1 324.0,167.0"/>
<path class="k" style="stroke-width:1" d="M343.3,176.5 C344.8,176.8 349.6,176.4 352.0,178.0 C354.4,179.6 356.2,182.7 358.0,186.0 C359.8,189.3 362.1,194.0 362.6,198.0 C363.1,202.0 361.9,206.0 361.0,210.0 C360.1,214.0 359.2,218.9 357.0,222.0 C354.8,225.1 351.2,226.8 348.0,228.6 C344.8,230.4 341.7,232.4 338.0,233.0 C334.3,233.6 328.0,232.2 326.0,232.0"/>
<path class="k" style="stroke-width:0.9" d="M338.5,177.5 C338.3,178.6 338.5,180.8 337.5,184.2 C336.5,187.6 335.1,194.5 332.7,197.7 C330.3,200.9 324.7,202.5 323.1,203.5"/>
<path class="k" style="stroke-width:1" d="M325.1,188.0 C325.1,189.5 326.1,193.3 325.1,197.1 C324.1,200.9 321.3,207.0 319.0,210.8 C316.7,214.6 313.4,216.9 311.4,219.9 C309.4,222.9 307.6,227.5 306.9,229.0"/>
<path class="k" style="stroke-width:0.8" d="M365.4,184.2 C364.8,184.6 362.8,185.3 362.0,186.6 C361.2,187.9 360.6,190.2 360.6,192.0 C360.6,193.8 360.7,196.2 362.0,197.6 C363.3,199.0 367.2,200.1 368.3,200.6"/>
<path class="k" style="stroke-width:0.7" d="M361.0,190.0 C360.4,190.3 357.8,190.7 357.2,192.0 C356.6,193.3 357.0,196.8 357.6,198.0 C358.2,199.2 360.4,198.8 361.0,199.0"/>
<path class="k" style="stroke-width:0.7" d="M364.4,220.8 C363.8,220.0 361.1,217.8 360.6,216.0 C360.1,214.2 361.3,211.0 361.4,210.0"/>
<path class="k" style="stroke-width:0.7" d="M369.2,215.0 C369.1,213.5 367.6,207.9 368.4,206.0 C369.2,204.1 373.1,203.9 374.0,203.5"/>
<path class="s2" style="stroke:#333" d="M340.0,184.0 C339.3,186.0 336.3,192.0 336.0,196.0 C335.7,200.0 337.0,207.3 338.0,208.0 C339.0,208.7 340.7,202.0 342.0,200.0 C343.3,198.0 345.7,194.7 346.0,196.0 C346.3,197.3 343.7,204.7 344.0,208.0 C344.3,211.3 346.8,216.3 348.0,216.0 C349.2,215.7 349.7,208.0 351.0,206.0 C352.3,204.0 355.7,202.7 356.0,204.0 C356.3,205.3 353.3,211.0 353.0,214.0 C352.7,217.0 353.8,220.7 354.0,222.0"/>
<path class="s2" style="stroke:#333" d="M330.0,188.0 C329.3,190.0 326.2,195.7 326.0,200.0 C325.8,204.3 328.0,210.3 329.0,214.0 C330.0,217.7 330.2,220.0 332.0,222.0 C333.8,224.0 338.7,225.3 340.0,226.0"/>
<path class="s2" style="stroke:#333" d="M334.0,180.0 C333.3,181.0 330.5,183.7 330.0,186.0 C329.5,188.3 330.8,192.7 331.0,194.0"/>
<path class="s2" style="stroke:#333" d="M345.0,182.0 C345.7,182.7 348.2,184.3 349.0,186.0 C349.8,187.7 349.2,191.3 350.0,192.0 C350.8,192.7 353.2,189.3 354.0,190.0 C354.8,190.7 354.8,195.0 355.0,196.0"/>
<path class="s2" style="stroke:#333" d="M322.0,206.0 C322.3,207.3 324.2,211.0 324.0,214.0 C323.8,217.0 321.5,222.3 321.0,224.0"/>
<path class="s2" style="stroke:#333" d="M333.0,200.0 C332.8,201.7 331.5,207.0 332.0,210.0 C332.5,213.0 335.3,216.7 336.0,218.0"/>
<path class="s2" style="stroke:#333" d="M342.0,210.0 C342.2,211.3 342.3,216.0 343.0,218.0 C343.7,220.0 345.5,221.3 346.0,222.0"/>
<path class="s2" style="stroke:#333" d="M350.0,198.0 C350.3,198.7 351.8,200.3 352.0,202.0 C352.2,203.7 351.2,207.0 351.0,208.0"/>
<path class="s2" style="stroke:#333" d="M336.0,176.0 C336.7,176.3 339.2,176.8 340.0,178.0 C340.8,179.2 340.8,182.2 341.0,183.0"/>
<path class="s2" style="stroke:#333" d="M356.0,182.0 C356.3,182.7 357.7,184.7 358.0,186.0 C358.3,187.3 357.7,189.3 357.6,190.0"/>
<path class="s2" style="stroke:#333" d="M338.0,222.0 C338.7,222.3 340.7,224.0 342.0,224.0 C343.3,224.0 345.3,222.3 346.0,222.0"/>
<path class="s2" style="stroke:#333" d="M324.0,214.0 C324.3,215.3 324.7,220.0 326.0,222.0 C327.3,224.0 331.0,225.3 332.0,226.0"/>
<path class="s2" style="stroke:#333" d="M328.0,194.0 L326.0,200.0"/>
<path class="s2" style="stroke:#333" d="M347.0,188.0 L346.0,194.0"/>
<path class="s2" style="stroke:#333" d="M341.0,190.0 L340.0,198.0"/>
<path class="s2" style="stroke:#333" d="M335.0,206.0 L334.0,212.0"/>
<path class="s2" style="stroke:#333" d="M352.0,210.0 L350.0,216.0"/>
<path class="s2" style="stroke:#333" d="M344.0,226.0 L350.0,224.0"/>
<path class="s2" style="stroke:#333" d="M358.6,193.6 L360.4,193.4"/>
<path class="s2" style="stroke:#333" d="M358.6,196.0 L360.6,196.0"/>
<path class="s2" style="stroke:#333" d="M318.0,216.0 C318.7,216.3 320.7,216.7 322.0,218.0 C323.3,219.3 325.3,223.0 326.0,224.0"/>
<path class="s2" style="stroke:#333" d="M314.0,224.0 C315.0,224.7 318.0,226.7 320.0,228.0 C322.0,229.3 325.0,231.3 326.0,232.0"/>
<path class="k" style="stroke-width:1" d="M302.3,192.6 C303.6,193.0 307.7,193.7 310.0,195.0 C312.3,196.3 315.0,199.5 316.0,200.4"/>
<path class="k" style="stroke-width:1" d="M289.4,200.2 C290.7,200.8 294.4,201.9 297.0,204.0 C299.6,206.1 302.6,210.3 305.0,213.0 C307.4,215.7 310.3,218.8 311.4,219.9"/>
<path class="k" style="stroke-width:1" d="M286.4,213.8 C287.5,214.3 290.7,215.3 293.0,217.0 C295.3,218.7 298.3,221.0 300.0,224.0 C301.7,227.0 302.9,232.1 303.1,235.1 C303.4,238.1 301.8,240.8 301.5,241.9"/>
<path class="k" style="stroke-width:0.7" d="M296.0,196.6 C297.2,197.5 300.7,200.3 303.0,202.0 C305.3,203.7 308.8,206.2 310.0,207.0"/>
<path class="k" style="stroke-width:0.7" d="M292.0,206.6 C292.1,206.7 293.8,210.0 294.0,210.0 C294.2,210.0 296.8,207.9 297.0,208.0 C297.2,208.1 298.8,212.3 299.0,212.4 C299.2,212.5 301.9,210.3 302.0,210.4 C302.1,210.5 303.3,214.5 303.4,214.6 C303.5,214.7 305.9,213.6 306.0,213.6"/>
<path class="k" style="stroke-width:0.7" d="M288.4,209.6 C288.5,209.7 290.8,212.0 291.0,212.0 C291.2,212.0 293.4,210.3 293.6,210.4 C293.8,210.5 295.8,214.3 296.0,214.4 C296.2,214.5 298.8,213.3 299.0,213.4 C299.2,213.5 300.4,217.9 300.6,218.0 C300.8,218.1 303.5,217.4 303.6,217.4"/>
<path class="k" style="stroke-width:0.7" d="M288.0,218.0 C287.7,219.3 285.7,223.7 286.0,226.0 C286.3,228.3 288.3,230.3 290.0,232.0 C291.7,233.7 294.3,236.0 296.0,236.0 C297.7,236.0 299.3,232.7 300.0,232.0"/>
<path class="k" style="stroke-width:0.7" d="M289.0,224.0 C289.5,223.7 291.3,221.7 292.0,222.0 C292.7,222.3 293.2,224.8 293.0,226.0 C292.8,227.2 290.8,228.2 291.0,229.0 C291.2,229.8 293.0,231.0 294.0,231.0 C295.0,231.0 296.5,229.3 297.0,229.0"/>
<path class="k" style="stroke-width:0.7" d="M316.0,200.4 C316.8,201.2 320.3,203.1 321.0,205.0 C321.7,206.9 321.5,209.2 320.0,212.0 C318.5,214.8 313.3,220.3 312.0,222.0"/>
<path class="k" style="stroke-width:0.8" d="M282.4,226.0 C282.5,226.2 284.3,228.6 284.4,229.0 C284.5,229.4 283.5,232.3 283.6,232.6 C283.7,232.9 286.3,233.3 286.6,233.6 C286.9,233.9 287.1,237.0 287.4,237.2 C287.7,237.4 290.6,236.5 291.0,236.6 C291.4,236.7 292.6,238.8 293.0,239.0 C293.4,239.2 296.1,238.9 296.3,238.9"/>
<path class="s2" style="stroke:#333" d="M300.0,192.6 C301.0,193.3 303.8,195.4 306.0,197.0 C308.2,198.6 311.8,201.2 313.0,202.0"/>
<path class="s2" style="stroke:#333" d="M298.0,199.0 C298.3,199.7 299.0,202.5 300.0,203.0 C301.0,203.5 303.0,201.5 304.0,202.0 C305.0,202.5 305.7,205.3 306.0,206.0"/>
<path class="s2" style="stroke:#333" d="M308.0,218.0 L314.0,214.0"/>
<path class="s2" style="stroke:#333" d="M306.0,224.0 L311.0,226.0"/>
<path class="s2" style="stroke:#333" d="M287.0,214.0 C287.5,214.7 289.6,216.7 290.0,218.0 C290.4,219.3 289.7,221.3 289.6,222.0"/>
<path class="s2" style="stroke:#333" d="M292.0,234.0 L295.0,237.0"/>
<path class="s2" style="stroke:#333" d="M286.6,229.0 C287.0,228.8 288.3,227.5 289.0,227.6 C289.7,227.7 290.7,229.3 291.0,229.6"/>
<path class="s2" style="stroke:#333" d="M301.0,205.0 L304.0,209.0"/>
<path class="s2" style="stroke:#333" d="M294.0,201.0 L297.0,204.0"/>
<path class="s2" style="stroke:#333" d="M303.0,218.0 L306.0,221.0"/>
<path class="s2" style="stroke:#333" d="M309.0,210.0 L312.0,212.0"/>
<path class="s2" style="stroke:#333" d="M297.0,226.0 C297.3,226.5 298.8,227.8 299.0,229.0 C299.2,230.2 298.2,232.3 298.0,233.0"/>
<path class="s2" style="stroke:#333" d="M313.0,196.0 L318.0,203.0"/>
<path class="s2" style="stroke:#333" d="M305.0,228.0 C305.7,227.3 307.5,225.0 309.0,224.0 C310.5,223.0 313.2,222.3 314.0,222.0"/>
<path class="s2" style="stroke:#333" d="M308.0,200.0 L305.0,206.0"/>
<path class="s2" style="stroke:#333" d="M299.0,208.0 L296.0,212.0"/>
<path class="k" style="stroke-width:1.2" d="M338.0,233.0 C338.2,235.1 338.3,241.8 339.4,245.3 C340.5,248.8 343.4,249.9 344.5,253.9 C345.6,257.9 346.2,263.9 346.3,269.4 C346.4,274.8 346.1,282.3 345.4,286.6 C344.7,290.9 342.6,293.8 342.0,295.2"/>
<path class="k" style="stroke-width:0.8" d="M339.4,245.3 C341.5,244.9 348.4,243.6 352.0,243.0 C355.6,242.4 359.4,242.1 360.9,241.9"/>
<path class="k" style="stroke-width:0.8" d="M344.5,253.9 C345.9,253.8 350.3,253.3 353.0,253.0 C355.7,252.7 359.6,252.3 360.9,252.2"/>
<path class="k" style="stroke-width:0.8" d="M346.3,269.4 C347.8,268.8 352.0,266.0 355.0,266.0 C358.0,266.0 362.8,268.8 364.3,269.4"/>
<path class="k" style="stroke-width:0.8" d="M345.4,286.6 C346.5,285.5 350.2,282.4 352.0,280.0 C353.8,277.6 354.3,272.7 356.0,272.0 C357.7,271.3 360.6,273.9 362.0,276.0 C363.4,278.1 363.9,283.4 364.3,284.9"/>
<path class="k" style="stroke-width:0.7" d="M352.3,296.1 C352.9,295.4 355.1,294.0 356.0,292.0 C356.9,290.0 357.7,285.3 358.0,284.0"/>
<path class="k" style="stroke-width:0.7" d="M348.0,236.0 L352.0,240.0"/>
<path class="k" style="stroke-width:1" d="M301.5,241.9 C302.9,242.6 306.9,246.2 310.0,246.0 C313.1,245.8 316.8,240.6 320.0,240.6 C323.2,240.6 328.0,243.1 329.0,246.0 C330.0,248.9 328.8,255.3 326.0,258.0 C323.2,260.7 316.8,262.7 312.0,262.0 C307.2,261.3 299.7,255.2 297.2,253.9"/>
<path class="k" style="stroke-width:1" d="M312.0,262.0 C311.0,263.5 307.9,268.6 306.0,271.0 C304.1,273.4 301.6,275.4 300.7,276.3"/>
<path class="k" style="stroke-width:1" d="M326.0,258.0 C327.3,259.7 333.3,264.3 334.0,268.0 C334.7,271.7 332.4,276.0 330.0,280.0 C327.6,284.0 321.3,289.8 319.6,291.8"/>
<path class="k" style="stroke-width:1" d="M306.0,271.0 C308.0,271.8 314.0,274.5 318.0,276.0 C322.0,277.5 328.0,279.3 330.0,280.0"/>
<path class="k" style="stroke-width:1" d="M334.0,268.0 C335.5,267.0 341.2,264.4 343.0,262.0 C344.8,259.6 344.2,255.2 344.5,253.9"/>
<path class="k" style="stroke-width:1" d="M329.0,246.0 C329.8,245.0 332.5,242.2 334.0,240.0 C335.5,237.8 337.3,234.2 338.0,233.0"/>
<path class="k" style="stroke-width:1" d="M330.0,280.0 C331.3,281.3 336.1,284.2 338.0,288.0 C339.9,291.8 340.6,300.5 341.1,303.0"/>
<path class="k" style="stroke-width:0.8" d="M289.5,266.8 C290.6,266.0 293.2,261.3 296.0,262.0 C298.8,262.7 304.3,269.5 306.0,271.0"/>
<path class="s2" style="stroke:#333" d="M306.0,250.0 C307.0,250.3 310.0,252.3 312.0,252.0 C314.0,251.7 317.0,248.7 318.0,248.0"/>
<path class="s2" style="stroke:#333" d="M300.0,262.0 L308.0,266.0"/>
<path class="s2" style="stroke:#333" d="M314.0,268.0 C315.0,268.3 318.3,270.7 320.0,270.0 C321.7,269.3 323.3,265.0 324.0,264.0"/>
<path class="s2" style="stroke:#333" d="M310.0,280.0 C311.0,280.7 314.0,283.7 316.0,284.0 C318.0,284.3 321.0,282.3 322.0,282.0"/>
<path class="s2" style="stroke:#333" d="M324.0,286.0 C325.0,287.0 328.0,290.3 330.0,292.0 C332.0,293.7 335.0,295.3 336.0,296.0"/>
<path class="s2" style="stroke:#333" d="M336.0,272.0 C336.7,272.7 339.7,274.0 340.0,276.0 C340.3,278.0 338.3,282.7 338.0,284.0"/>
<path class="s2" style="stroke:#333" d="M333.0,250.0 C333.8,250.3 336.8,250.7 338.0,252.0 C339.2,253.3 339.7,257.0 340.0,258.0"/>
<path class="s2" style="stroke:#333" d="M318.0,254.0 L322.0,258.0"/>
<path class="s2" style="stroke:#333" d="M308.0,256.0 C308.7,256.3 310.7,258.0 312.0,258.0 C313.3,258.0 315.3,256.3 316.0,256.0"/>
<path class="s2" style="stroke:#333" d="M302.0,268.0 C302.3,268.7 303.0,271.3 304.0,272.0 C305.0,272.7 307.3,272.0 308.0,272.0"/>
<path class="s2" style="stroke:#333" d="M320.0,244.0 C320.7,244.7 323.7,246.3 324.0,248.0 C324.3,249.7 322.3,253.0 322.0,254.0"/>
<path class="s2" style="stroke:#333" d="M328.0,262.0 C328.3,262.7 330.0,264.3 330.0,266.0 C330.0,267.7 328.3,271.0 328.0,272.0"/>
<path class="s2" style="stroke:#333" d="M314.0,286.0 L320.0,288.0"/>
<path class="s2" style="stroke:#333" d="M338.0,290.0 L340.0,296.0"/>
<path class="s2" style="stroke:#333" d="M336.0,240.0 C336.3,241.0 338.3,244.3 338.0,246.0 C337.7,247.7 334.7,249.3 334.0,250.0"/>
<path class="s2" style="stroke:#333" d="M296.0,264.0 L300.0,268.0"/>
<path class="s2" style="stroke:#333" d="M304.0,276.0 L310.0,278.0"/>
<path class="s2" style="stroke:#333" d="M326.0,290.0 L330.0,296.0"/>
<path class="s2" style="stroke:#333" d="M332.0,284.0 C332.5,284.7 334.7,286.7 335.0,288.0 C335.3,289.3 334.2,291.3 334.0,292.0"/>
<path class="s2" style="stroke:#333" d="M299.0,250.0 C299.5,250.7 301.8,252.7 302.0,254.0 C302.2,255.3 300.3,257.3 300.0,258.0"/>
<path class="s2" style="stroke:#333" d="M310.0,247.0 L312.0,252.0"/>
<path class="s2" style="stroke:#333" d="M324.0,236.0 C324.7,236.3 327.5,236.8 328.0,238.0 C328.5,239.2 327.2,242.2 327.0,243.0"/>
<path class="s2" style="stroke:#333" d="M340.0,264.0 L338.0,270.0"/>
<path class="s2" style="stroke:#333" d="M349.0,246.0 C349.5,246.5 350.8,248.8 352.0,249.0 C353.2,249.2 355.3,247.3 356.0,247.0"/>
<path class="s2" style="stroke:#333" d="M350.0,258.0 C350.7,258.7 353.7,260.7 354.0,262.0 C354.3,263.3 352.3,265.3 352.0,266.0"/>
<path class="s2" style="stroke:#333" d="M349.0,272.0 L352.0,276.0"/>
<path class="s2" style="stroke:#333" d="M356.0,256.0 L358.0,262.0"/>
<path class="s2" style="stroke:#333" d="M348.0,282.0 C348.5,282.7 350.8,284.5 351.0,286.0 C351.2,287.5 349.3,290.2 349.0,291.0"/>
<path class="s2" style="stroke:#333" d="M358.0,288.0 L360.0,294.0"/>
<path class="s2" style="stroke:#333" d="M355.0,300.0 L358.0,304.0"/>
<path class="s2" style="stroke:#333" d="M353.0,244.0 L357.0,245.0"/>
<path class="s2" style="stroke:#333" d="M341.0,248.0 L342.0,252.0"/>
<path class="s2" style="stroke:#333" d="M322.0,266.0 L318.0,272.0"/>
<path class="s2" style="stroke:#333" d="M312.0,272.0 L316.0,274.0"/>
<path class="s2" style="stroke:#333" d="M332.0,258.0 L336.0,262.0"/>
<path class="s2" style="stroke:#333" d="M322.0,276.0 L326.0,282.0"/>
<path class="s2" style="stroke:#333" d="M344.0,292.0 L346.0,296.0"/>
</g>
<g id="text">
<path class="hw"  d="M186.0,85.5 L185.3,84.7 L184.0,84.6 L183.4,85.6 L184.1,86.6 L185.3,87.0 L186.2,88.0 L185.4,89.1 L184.2,89.1 L183.4,88.5 M187.3,84.5 L187.1,87.8 L187.8,89.0 L189.2,89.0 L190.0,87.9 L190.0,84.4 M190.9,89.0 L191.0,84.5 L193.1,84.5 L193.7,85.7 L193.1,86.8 L191.0,86.9 M194.8,89.4 L194.9,84.9 L196.8,85.1 L197.4,86.1 L196.7,87.4 L194.9,87.4 M199.2,85.1 L200.7,85.0 L201.3,86.2 L201.4,88.3 L200.7,89.3 L199.3,89.5 L198.7,88.4 L198.5,86.1 L199.3,84.9 M202.3,89.1 L202.2,84.9 L204.3,84.7 L205.1,86.0 L204.3,87.1 L202.4,87.2 M203.8,87.2 L205.0,89.2 M206.3,84.9 L208.8,84.6 M207.4,84.6 L207.5,89.1"/>
<path class="hw"  d="M215.6,89.2 L215.7,85.1 L218.3,85.1 L219.0,86.1 L218.2,87.2 L215.8,87.4 M217.4,87.4 L218.9,89.2 M220.2,89.0 L221.7,84.9 L223.3,89.1 M220.9,87.6 L222.5,87.6 M225.3,85.2 L225.2,89.3 M226.9,85.2 L227.2,89.3 L230.3,89.2"/>
<path class="hw"  d="M177.9,266.7 L178.0,261.7 L179.4,261.9 L180.6,263.3 L180.6,265.0 L179.6,266.9 L178.0,266.8 M181.6,266.8 L181.7,261.9 L183.8,261.8 L184.3,263.2 L183.8,264.6 L181.7,264.6 M183.1,264.4 L184.4,266.8 M185.8,261.6 L185.9,266.7 M187.5,262.4 L188.7,267.2 L190.0,262.2 M193.8,261.9 L191.2,261.8 L191.1,266.9 L193.7,266.9 M191.2,264.4 L193.2,264.3"/>
<path class="hw"  d="M199.4,266.8 L199.4,262.9 L201.3,262.8 L202.2,263.9 L201.2,264.8 L199.2,265.1 M200.8,264.8 L202.1,267.0 M203.0,267.1 L204.3,262.9 L205.9,267.1 M203.7,265.9 L205.1,265.9 M207.2,263.1 L207.3,267.1 M208.7,263.1 L208.7,266.9 L211.5,267.1"/>
<path style="stroke-width:.85" class="hw" d="M214.4,353.1 L213.5,352.4 L211.7,352.3 L210.9,353.2 L211.9,354.2 L213.4,354.7 L214.3,355.5 L213.5,356.6 L211.9,356.4 L211.0,355.8 M215.6,352.3 L215.5,356.5 L218.9,356.4 M220.6,352.5 L220.6,356.7 M222.5,357.0 L222.5,352.6 L224.5,352.8 L225.8,354.0 L225.6,355.4 L224.3,356.8 L222.3,356.9 M230.3,352.5 L227.0,352.6 L226.8,356.9 L230.3,356.7 M227.1,354.6 L229.4,354.8 M234.6,353.3 L233.9,352.6 L232.2,352.5 L231.5,353.4 L232.3,354.5 L233.7,354.8 L234.7,355.8 L233.8,356.9 L232.3,356.9 L231.3,356.0"/>
<path style="stroke-width:.85" class="hw" d="M244.4,352.4 L244.5,356.2 M245.9,356.4 L246.0,352.7 L248.7,356.1 L248.8,352.6 M250.0,352.6 L252.8,352.4 M251.4,352.4 L251.4,356.1 M254.5,352.8 L255.8,352.6 L256.6,353.5 L256.5,355.3 L255.8,356.2 L254.4,356.2 L253.8,355.3 L253.8,353.5 L254.4,352.6"/>
<path style="stroke-width:.85" class="hw" d="M262.9,356.5 L263.0,352.4 L265.9,352.6 L266.7,353.5 L265.9,354.6 L263.1,354.6 M264.9,354.6 L267.0,356.4 M268.4,356.8 L270.2,352.8 L272.0,356.7 M269.2,355.5 L271.1,355.4 M274.4,352.4 L274.3,356.3 M276.3,352.6 L276.4,356.7 L280.4,356.6"/>
<path class="hw"  d="M67.1,466.8 L66.3,466.1 L64.9,466.2 L64.3,467.0 L65.0,467.9 L66.3,468.2 L67.0,469.0 L66.2,470.0 L64.9,470.1 L64.3,469.5 M70.8,467.2 L70.0,466.4 L68.8,466.4 L68.1,467.5 L67.9,469.4 L68.8,470.3 L70.1,470.4 L70.6,469.7 M71.8,470.3 L71.8,466.4 L73.9,466.5 L74.5,467.3 L73.6,468.3 L71.7,468.3 M73.2,468.4 L74.5,470.2 M78.2,466.4 L75.6,466.6 L75.5,470.3 L78.2,470.2 M75.5,468.3 L77.4,468.3 M79.1,466.6 L80.0,470.3 L80.5,468.1 L81.3,470.4 L81.9,466.6 M85.5,466.7 L85.0,466.1 L83.6,466.0 L82.8,467.0 L83.6,468.0 L85.0,468.1 L85.6,469.0 L84.9,469.8 L83.7,469.9 L83.0,469.4"/>
<path class="hw"  d="M88.3,466.5 L88.2,469.8 M90.0,470.5 L90.0,466.9 L93.6,470.4 L93.6,466.9"/>
<path class="hw"  d="M100.9,466.4 L104.5,466.4 M102.4,466.3 L102.6,470.2 M106.5,466.0 L108.4,466.2 L109.2,467.1 L109.4,468.8 L108.5,469.9 L106.7,469.8 L105.7,468.9 L105.9,467.1 L106.6,466.1"/>
<path class="hw"  d="M117.8,465.9 L118.0,470.0 M121.1,466.0 L120.9,470.1 M117.8,468.0 L121.1,468.2 M122.9,466.5 L124.6,466.4 L125.3,467.3 L125.3,469.4 L124.5,470.4 L122.8,470.3 L122.3,469.3 L122.1,467.3 L122.8,466.5 M126.3,466.5 L126.3,470.5 L129.4,470.4 M130.5,470.1 L130.6,465.9 L132.7,466.1 L133.7,467.2 L133.6,468.5 L132.5,469.9 L130.5,469.9"/>
<path class="hw"  d="M149.6,466.3 L145.8,466.2 L145.8,470.2 M145.8,468.1 L148.5,468.4 M150.9,470.0 L152.9,465.9 L154.6,469.9 M151.8,468.6 L153.8,468.7 M155.9,470.3 L156.1,466.5 L158.8,466.4 L159.6,467.3 L159.0,468.5 L156.2,468.6 M158.8,468.3 L159.7,469.4 L158.9,470.6 L156.1,470.5 M161.2,470.4 L161.0,466.4 L163.9,466.5 L164.9,467.3 L163.8,468.4 L161.2,468.6 M162.9,468.4 L164.9,470.4 M167.0,466.0 L166.9,470.3 M172.8,466.9 L171.7,466.2 L170.1,466.3 L168.9,467.1 L169.0,469.3 L169.9,470.2 L171.8,470.4 L172.6,469.5 M174.1,470.2 L175.9,466.2 L177.9,470.1 M175.0,468.9 L176.9,468.9 M179.2,466.1 L182.9,466.2 M181.1,465.9 L181.0,470.0 M188.2,466.9 L187.1,466.2 L185.4,466.2 L184.2,467.1 L185.3,468.3 L187.3,468.5 L188.2,469.5 L187.1,470.2 L185.4,470.4 L184.2,469.7 M190.1,469.8 L190.1,470.1"/>
<path class="hw"  transform="rotate(-17 399.1 154.2)" d="M399.0,150.8 L399.0,154.4 M402.4,150.8 L402.3,154.3 M399.1,152.5 L402.4,152.5 M404.4,150.2 L405.8,150.4 L406.7,151.1 L406.5,153.0 L406.0,154.0 L404.3,154.2 L403.4,153.1 L403.6,151.3 L404.2,150.4 M407.8,150.1 L407.9,154.2 L411.1,154.2 M412.2,153.9 L412.4,150.3 L414.2,150.0 L415.4,151.4 L415.5,152.6 L414.3,154.0 L412.3,154.0 M417.4,150.4 L419.0,150.5 L419.7,151.3 L419.9,153.2 L418.9,154.1 L417.4,154.2 L416.8,153.4 L416.8,151.3 L417.3,150.3 M421.1,154.2 L420.9,150.4 L423.4,150.5 L424.3,151.5 L423.4,152.3 L421.1,152.4 M422.6,152.4 L424.3,154.1 M425.9,153.9 L425.9,154.0"/>
<path style="stroke-width:.6" class="hw" d="M420.4,191.6 L420.5,195.4"/>
<path style="stroke-width:.6" class="hw" d="M427.5,192.3 L426.8,191.4 L425.2,191.5 L424.5,192.6 L424.6,194.3 L425.3,195.1 L426.7,194.9 L427.4,194.6 M428.4,194.8 L429.7,191.3 L431.1,194.7 M429.0,193.7 L430.5,193.5 M432.2,194.8 L432.1,191.3 L434.9,194.8 L435.0,191.2"/>
<path style="stroke-width:.6" class="hw" d="M442.8,191.8 L442.0,191.0 L440.3,191.2 L439.6,191.9 L440.3,193.0 L441.9,193.1 L442.7,193.9 L442.1,194.9 L440.4,194.7 L439.7,194.1 M447.3,191.1 L444.1,191.1 L444.1,194.7 L447.1,194.6 M444.0,192.9 L446.5,192.8 M451.6,191.5 L448.3,191.4 L448.4,195.2 L451.5,195.1 M448.5,193.4 L450.7,193.2"/>
<path style="stroke-width:.6" class="hw" d="M457.7,195.3 L457.5,192.0 L459.2,194.0 L461.0,192.0 L460.9,195.4 M462.2,191.5 L464.0,193.0 L465.5,191.4 M463.9,193.1 L463.8,194.8"/>
<path style="stroke-width:.6" class="hw" d="M472.7,191.2 L472.6,195.0 M475.4,191.4 L475.4,195.0 M472.6,193.2 L475.5,193.1 M477.4,191.3 L478.9,191.2 L479.5,192.2 L479.6,193.9 L479.0,194.9 L477.4,194.8 L476.7,193.8 L476.6,192.1 L477.3,191.2 M480.6,191.2 L480.6,194.0 L481.5,194.8 L482.8,194.8 L483.6,194.1 L483.6,191.3 M487.8,192.2 L486.9,191.6 L485.5,191.6 L484.9,192.2 L485.6,193.3 L486.9,193.4 L487.8,194.2 L487.1,195.0 L485.6,195.0 L484.8,194.6 M491.7,191.0 L488.8,190.9 L488.8,194.5 L491.9,194.7 M489.0,192.7 L491.1,192.7"/>
<path style="stroke-width:.6" class="hw" d="M423.1,199.0 L419.9,199.0 L419.8,202.7 M419.7,201.0 L422.3,200.8 M424.2,202.9 L424.3,199.1 L426.8,199.2 L427.5,200.2 L426.6,201.2 L424.2,201.1 M426.1,201.1 L427.6,202.7 M429.5,198.6 L431.3,198.7 L432.1,199.7 L432.0,201.3 L431.3,202.2 L429.5,202.3 L428.7,201.4 L428.7,199.6 L429.7,198.6 M433.3,202.6 L433.5,199.0 L434.9,201.1 L436.6,199.2 L436.7,202.6"/>
<path style="stroke-width:.6" class="hw" d="M442.9,198.7 L443.0,202.4 M446.3,198.6 L446.4,202.5 M442.9,200.7 L446.2,200.6 M450.7,198.6 L447.6,198.6 L447.6,202.7 L450.7,202.5 M447.6,200.6 L450.0,200.7 M452.0,202.3 L451.9,198.7 L454.6,198.7 L455.2,199.7 L454.6,200.6 L452.1,200.6 M453.6,200.5 L455.3,202.3 M460.0,198.8 L456.7,198.8 L456.5,202.5 L459.9,202.6 M456.6,200.5 L459.1,200.7"/>
<path class="hw"  d="M423.5,264.3 L419.7,264.4 L419.9,269.6 L423.5,269.4 M419.9,266.9 L422.4,267.1 M424.9,264.7 L424.9,269.7 L428.5,269.7 M433.4,264.9 L429.8,264.8 L429.7,269.9 L433.3,269.9 M429.7,267.2 L432.4,267.4 M434.7,264.4 L436.5,269.6 L438.5,264.6 M439.7,269.8 L441.6,264.8 L443.5,269.9 M440.6,268.2 L442.6,268.2 M444.7,264.2 L448.3,264.5 M446.7,264.4 L446.7,269.4 M450.6,264.4 L452.6,264.4 L453.3,265.7 L453.3,268.1 L452.4,269.5 L450.6,269.4 L449.9,268.2 L449.9,265.8 L450.5,264.4 M454.9,269.5 L454.8,264.6 L457.4,264.7 L458.3,265.9 L457.4,267.1 L454.7,267.3 M456.7,267.1 L458.4,269.6"/>
<path class="t"  d="M163.2,40.1 L165.0,40.2 M164.1,40.2 L164.1,42.7 M166.1,40.0 L167.0,40.0 L167.4,40.8 L167.4,42.1 L166.9,42.7 L166.1,42.8 L165.6,42.1 L165.6,40.7 L166.0,40.2 M171.3,40.5 L170.8,40.0 L170.0,40.1 L169.6,40.6 L170.0,41.2 L170.8,41.5 L171.3,42.0 L170.8,42.6 L170.1,42.6 L169.5,42.2 M171.9,40.1 L171.9,42.8 M173.7,40.1 L173.6,42.7 M171.9,41.5 L173.6,41.4 M174.8,39.9 L175.5,40.0 L175.9,40.5 L176.1,41.9 L175.6,42.5 L174.7,42.5 L174.2,41.8 L174.3,40.4 L174.7,39.9 M176.7,42.7 L176.7,40.0 L178.0,40.1 L178.4,40.8 L177.9,41.5 L176.7,41.4"/>
<path class="t"  d="M156.8,217.8 L158.4,217.7 M157.7,217.7 L157.6,220.1 M159.4,217.6 L160.1,217.8 L160.6,218.4 L160.5,219.5 L160.1,220.1 L159.3,220.2 L159.1,219.5 L159.0,218.4 L159.3,217.7 M164.0,218.4 L163.7,218.0 L163.0,218.0 L162.5,218.6 L163.0,219.2 L163.7,219.3 L164.2,219.8 L163.7,220.5 L162.9,220.4 L162.5,220.0 M164.8,217.6 L164.6,220.0 M166.3,217.6 L166.3,220.0 M164.8,218.8 L166.3,218.8 M167.4,217.9 L168.0,218.0 L168.5,218.4 L168.4,219.8 L168.1,220.3 L167.3,220.3 L166.8,219.8 L166.9,218.5 L167.4,218.0 M169.0,220.2 L169.0,217.9 L170.2,217.9 L170.6,218.4 L170.2,219.1 L169.0,219.0"/>
<path class="t"  d="M325.8,423.3 L325.6,422.9 L325.1,422.9 L324.8,423.5 L324.9,424.9 L325.0,425.6 L325.7,425.5 L325.8,425.1 M326.2,425.4 L326.9,422.9 L327.3,425.4 M326.5,424.5 L327.1,424.6 M327.8,425.3 L327.7,422.7 L328.6,422.7 L328.9,423.4 L328.6,424.1 L327.7,424.1 M328.3,424.1 L328.8,425.3 M329.2,425.4 L329.2,422.8 L329.9,422.8 L330.2,423.5 L330.0,424.2 L329.3,424.1 M329.8,424.2 L330.3,425.5 M330.9,423.0 L330.9,425.6 M331.5,425.2 L332.1,422.6 L332.7,425.2 M331.8,424.4 L332.2,424.4 M334.0,423.4 L333.7,422.8 L333.2,422.9 L332.9,423.5 L333.0,424.8 L333.3,425.4 L333.8,425.4 L334.0,424.8 L334.0,424.4 L333.6,424.4 M335.5,422.7 L334.5,422.8 L334.5,425.2 L335.6,425.4 M334.5,423.9 L335.2,423.9 M336.2,423.1 L336.5,422.7 L336.9,423.1 L336.5,424.0 L336.5,424.6 M336.5,425.0 L336.5,425.3"/>
<path class="t"  d="M308.0,470.9 L307.4,470.6 L306.4,470.5 L305.8,471.2 L305.9,472.5 L306.3,473.1 L307.5,473.1 L308.0,472.5 L308.1,471.9 L307.2,471.9 M308.9,472.9 L310.1,470.2 L311.0,472.8 M309.5,472.1 L310.7,472.0 M311.9,473.0 L311.9,470.3 L313.5,470.3 L314.2,470.9 L313.7,471.7 L312.0,471.7"/>
<!-- arrows and marks -->
<path style="stroke-width:.5;stroke:#333" class="t" d="M158.2,47.4 V38.4 M156.8,40.4 L158.2,38.2 L159.6,40.4"/>
<path style="stroke-width:.5;stroke:#333" class="t" d="M151.3,225.4 V217 M149.9,219 L151.3,216.8 L152.7,219"/>
<path style="stroke:#777" class="t" d="M41.6,168.6 L43.4,166 L45.6,168.4"/>
<path style="stroke:#777" class="t" d="M62,281.4 L68,281 M64,284.6 L70,284.4 M62.6,287.6 L68,287.2 M66,283 L67.6,284.4 L66,286"/>
<path style="stroke:#777" class="t" d="M269,294.6 L277,294.8 M275.4,293.6 L277.2,294.8 L275.4,296 M280,295 L282,294 L284,295.4 L286,294.2 L288,295.2 M291.6,295.2 L293.6,294.4 L295.6,295.6 L298,294.6 L299.6,295.4"/>
<path style="stroke-width:1.3" class="hw" d="M206.5,356 L177,373.4"/>
<path style="stroke-width:1.1" class="hw" d="M177.6,369.6 L176.4,373.8 L181.6,374.6"/>
<path style="stroke-width:.9" class="hw" d="M60.4,468 Q51,466.6 48.6,458 Q48,455.6 48.2,453.4 M46.4,456.4 L48.2,453 L50.6,455.6"/>
<path style="stroke:#888" class="t" d="M103,393.4 Q106,393 106.6,391 Q107,389.4 110,389.2 M111.6,389 L113,388.6 L114.4,389.2 L116,388.6 L117.6,389.2 L119.4,388.6 L121,389.2 L122.8,388.8 M92,403.6 Q98,405 103,403 Q104.6,401.6 103.6,399.4"/>
<path style="stroke-width:.7" class="hw" d="M396,153.6 L360,161.2 M363,158.4 L359.6,161.4 L363.6,163"/>
<path style="stroke-width:.6" class="hw" d="M403,192.2 L416,192.2"/>
<path style="stroke-width:.7" class="hw" d="M465.3,252.4 L465.5,276.4 M463.5,255.4 L465.3,252 L467.1,255.4 M463.7,273.4 L465.5,276.8 L467.3,273.4"/>
<path style="stroke:#666" class="t" d="M338.4,424.8 Q352,424 360.4,433.2 M357.6,432.6 L360.6,433.4 L360.2,430.4"/>
<path style="stroke:#777" class="t" d="M335,469.4 L319.4,474 M321.6,472 L319,474.2 L322.4,475"/>
</g>
</svg>
</body></html>
